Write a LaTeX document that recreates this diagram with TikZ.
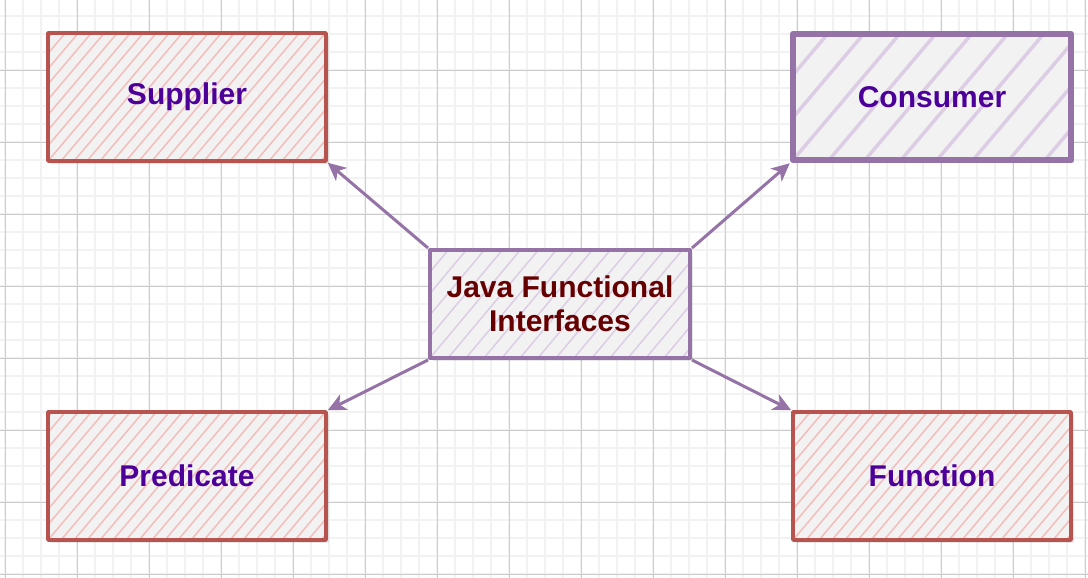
\documentclass[tikz,border=0pt]{standalone}
\usepackage{fontspec}
\setmainfont{Liberation Sans}
\usetikzlibrary{arrows.meta,shadows}
\definecolor{redline}{HTML}{B85450}
\definecolor{redfill}{HTML}{F5BDBA}
\definecolor{purpleline}{HTML}{9673A6}
\definecolor{purplefill}{HTML}{DCCDE4}
\definecolor{labelpurple}{HTML}{4C0099}
\definecolor{labelred}{HTML}{660000}
\begin{document}
\begin{tikzpicture}[
		x=1pt, y=-1pt,
		minor grid/.style={black!5, line width=1.5pt},
		major grid/.style={black!20, line width=0.8pt},
		box/.style={rectangle, fill=black!5, line width=3.5pt, line join=round,
			font=\fontsize{30}{34}\selectfont\bfseries, align=center,
			drop shadow={opacity=0.18, shadow xshift=3pt, shadow yshift=-3pt}},
		red box/.style={box, draw=redline, text=labelpurple,
			minimum width=278pt, minimum height=128pt,
			path picture={\foreach \k in {-10,...,24}
				\draw[redfill, line width=1.5pt]
				([xshift=\k*13pt]path picture bounding box.south west) -- ++(110pt,130pt);}},
		consumer box/.style={box, draw=purpleline, line width=6.5pt, text=labelpurple,
			minimum width=278pt, minimum height=126pt,
			path picture={\foreach \k in {-4,...,9}
				\draw[purplefill, line width=3.5pt]
				([xshift=\k*36pt]path picture bounding box.south west) -- ++(110pt,130pt);}},
		center box/.style={box, draw=purpleline, line width=4pt, text=labelred,
			minimum width=260pt, minimum height=108pt,
			path picture={\foreach \k in {-6,...,16}
				\draw[purplefill, line width=1.5pt]
				([xshift=\k*18pt]path picture bounding box.south west) -- ++(92pt,110pt);}},
		link/.style={purpleline, line width=3pt,
			-{Stealth[length=18pt, width=17pt, inset=5pt]}}
		]
		
		% ---------------------------------------------------------
		% Background grid
		% ---------------------------------------------------------
		\useasboundingbox (0,0) rectangle (1088,578);
		\fill[white] (0,0) rectangle (1088,578);
		\foreach \x in {5,23,...,1088} {
			\draw[minor grid] (\x,0) -- (\x,578);
		}
		\foreach \y in {-2,16,...,578} {
			\draw[minor grid] (0,\y) -- (1088,\y);
		}
		\foreach \x in {5,77,...,1088} {
			\draw[major grid] (\x,0) -- (\x,578);
		}
		\foreach \y in {-2,70,...,578} {
			\draw[major grid] (0,\y) -- (1088,\y);
		}
		
		% ---------------------------------------------------------
		% Boxes
		% ---------------------------------------------------------
		\node[red box] (supplier) at (187,97) {Supplier};
		\node[consumer box] (consumer) at (932,97) {Consumer};
		\node[red box] (predicate) at (187,476) {Predicate};
		\node[red box] (function) at (932,476) {Function};
		\node[center box] (javafi) at (560,304) {Java Functional\\Interfaces};
		
		% ---------------------------------------------------------
		% Arrows from the centre to each corner box
		% ---------------------------------------------------------
		\draw[link] (javafi.north west) -- (supplier.south east);
		\draw[link] (javafi.north east) -- (consumer.south west);
		\draw[link] (javafi.south west) -- (predicate.north east);
		\draw[link] (javafi.south east) -- (function.north west);
		
	\end{tikzpicture}
\end{document}
